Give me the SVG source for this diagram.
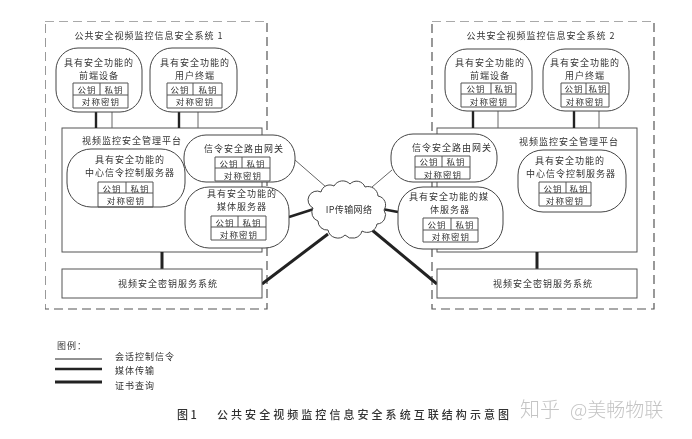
<svg xmlns="http://www.w3.org/2000/svg" width="692" height="439" viewBox="0 0 692 439">
<style>
text{font-family:"Noto Sans CJK SC","Liberation Serif",serif;font-size:9px;letter-spacing:1px;fill:#333;text-anchor:middle;dominant-baseline:central}
.k~text{font-size:8.5px;letter-spacing:1.1px}
.b{fill:none;stroke:#555;stroke-width:1.2;stroke-dasharray:9 5}
.p{fill:#fff;stroke:#555;stroke-width:1}
.f{fill:none;stroke:#555;stroke-width:1}
.n{fill:#fff;stroke:#444;stroke-width:1}
.k{fill:none;stroke:#555;stroke-width:1}
.t{stroke:#666;stroke-width:1;fill:none}
.m{stroke:#222;stroke-width:2.4;fill:none}
.c{stroke:#222;stroke-width:3;fill:none}
.l{text-anchor:start}
</style>
<defs><filter id="s" x="0" y="0" width="100%" height="100%"><feGaussianBlur stdDeviation="0.35"/></filter></defs>
<rect width="692" height="439" fill="#fff"/>
<g filter="url(#s)">
<g id="system1"><rect class="b" x="45" y="21" width="222" height="288"/><text x="149" y="35">公共安全视频监控信息安全系统 1</text></g>
<g id="system2"><rect class="b" x="432" y="21" width="222" height="288"/><text x="541" y="35">公共安全视频监控信息安全系统 2</text></g>
<g id="platform1"><rect class="f" x="62" y="128" width="200" height="124"/><text x="132" y="140">视频监控安全管理平台</text></g>
<g id="platform2"><rect class="f" x="437" y="128" width="200" height="124"/><text x="569" y="141">视频监控安全管理平台</text></g>
<g id="connectors">
<path class="m" d="M96 112V128M179 112V128M473 111V128M574 111V128"/>
<path class="t" d="M112 112V128M198 112V128M498 111V128M599 111V128"/>
<path class="t" d="M295 160L326 187M392 170L372 187"/>
<path class="m" d="M289 217L314 209M382 209L398 212"/>
<path class="c" d="M162 252V269M537 252V269M262 284L328 234M372 230L437 284"/>
</g>
<g id="front1"><rect class="n" x="56" y="48" width="86" height="64" rx="22"/><text x="99" y="62.5">具有安全功能的</text><text x="99" y="75.5">前端设备</text>
<path class="k" d="M73 83H128V108H73ZM73 95H128M100 83V95"/><text x="87" y="88.7">公钥</text><text x="114" y="88.7">私钥</text><text x="101" y="101.3">对称密钥</text></g>
<g id="user1"><rect class="n" x="150" y="48" width="87" height="64" rx="22"/><text x="195" y="62.5">具有安全功能的</text><text x="195" y="75.5">用户终端</text>
<path class="k" d="M167 83H222V108H167ZM167 95H222M193 83V95"/><text x="180" y="88.7">公钥</text><text x="208" y="88.7">私钥</text><text x="195" y="101.3">对称密钥</text></g>
<g id="central1"><rect class="n" x="67" y="149" width="118" height="58" rx="24"/><text x="130" y="159.5">具有安全功能的</text><text x="130" y="172.5">中心信令控制服务器</text>
<path class="k" d="M98 182H153V207H98ZM98 193H153M126 182V193"/><text x="112" y="187.7">公钥</text><text x="140" y="187.7">私钥</text><text x="126" y="200.3">对称密钥</text></g>
<g id="gateway1"><rect class="n" x="184" y="135" width="111" height="47" rx="22"/><text x="244" y="148">信令安全路由网关</text>
<path class="k" d="M215 157H270V181H215ZM215 168H270M242 157V168"/><text x="229" y="162.7">公钥</text><text x="256" y="162.7">私钥</text><text x="243" y="175.3">对称密钥</text></g>
<g id="media1"><rect class="n" x="185" y="187" width="104" height="61" rx="24"/><text x="242" y="193.5">具有安全功能的</text><text x="242" y="206.5">媒体服务器</text>
<path class="k" d="M211 216H266V240H211ZM211 227H266M238 216V227"/><text x="225" y="221.7">公钥</text><text x="252" y="221.7">私钥</text><text x="239" y="234.3">对称密钥</text></g>
<g id="keys1"><rect class="p" x="62" y="269" width="200" height="29"/><text x="168" y="283">视频安全密钥服务系统</text></g>
<g id="front2"><rect class="n" x="445" y="49" width="87" height="62" rx="22"/><text x="490" y="62.5">具有安全功能的</text><text x="490" y="75.5">前端设备</text>
<path class="k" d="M461 83H516V107H461ZM461 94H516M491 83V94"/><text x="476" y="88.4">公钥</text><text x="504" y="88.4">私钥</text><text x="489" y="101">对称密钥</text></g>
<g id="user2"><rect class="n" x="543" y="49" width="86" height="62" rx="22"/><text x="585" y="62.5">具有安全功能的</text><text x="585" y="75.5">用户终端</text>
<path class="k" d="M561 83H609V107H561ZM561 94H609M586 83V94"/><text x="574" y="88.4">公钥</text><text x="598" y="88.4">私钥</text><text x="585" y="101">对称密钥</text></g>
<g id="central2"><rect class="n" x="518" y="150" width="108" height="62" rx="25"/><text x="570" y="160.5">具有安全功能的</text><text x="571" y="173.5">中心信令控制服务器</text>
<path class="k" d="M539 182H591V206H539ZM539 193H591M566 182V193"/><text x="553" y="187.7">公钥</text><text x="579" y="187.7">私钥</text><text x="565" y="200.3">对称密钥</text></g>
<g id="gateway2"><rect class="n" x="391" y="134" width="106" height="48" rx="22"/><text x="452" y="147">信令安全路由网关</text>
<path class="k" d="M415 156H470V179H415ZM415 167H470M442 156V167"/><text x="429" y="161.4">公钥</text><text x="456" y="161.4">私钥</text><text x="443" y="174">对称密钥</text></g>
<g id="media2"><rect class="n" x="398" y="187" width="105" height="62" rx="25"/><text x="449" y="196">具有安全功能的媒</text><text x="450" y="209">体服务器</text>
<path class="k" d="M423 218H478V242H423ZM423 230H478M451 218V230"/><text x="437" y="223.7">公钥</text><text x="465" y="223.7">私钥</text><text x="451" y="236.3">对称密钥</text></g>
<g id="keys2"><rect class="p" x="437" y="269" width="200" height="29"/><text x="543" y="283">视频安全密钥服务系统</text></g>
<g id="cloud"><path class="n" d="M321 192A9 9 0 0 1 334 186A10 10 0 0 1 350 184A9 9 0 0 1 365 187A10 10 0 0 1 378 196A9 9 0 0 1 384 210A9 9 0 0 1 377 224A10 10 0 0 1 362 231A10 10 0 0 1 345 235A10 10 0 0 1 328 230A9 9 0 0 1 318 221A9 9 0 0 1 313 208A8 8 0 0 1 321 192Z"/><text x="349" y="209" style="letter-spacing:.4px">IP传输网络</text></g>
<g id="legend"><text class="l" x="57" y="345">图例：</text>
<path class="m" d="M55 359H102" style="stroke-width:1"/><path class="m" d="M55 369H102"/><path class="c" d="M55 382H102"/>
<text class="l" x="115" y="356">会话控制信令</text><text class="l" x="115" y="370">媒体传输</text><text class="l" x="115" y="385">证书查询</text></g>
<text x="177" y="414" style="text-anchor:start;font-size:11px;font-weight:500;letter-spacing:0">图 1</text>
<text x="217" y="414" style="text-anchor:start;font-size:11px;font-weight:500;letter-spacing:3.05px">公共安全视频监控信息安全系统互联结构示意图</text>
<text x="520" y="408" style="text-anchor:start;font-size:20px;font-weight:300;fill:#c4c4c4;letter-spacing:0">知乎</text>
<text x="570" y="408" style="text-anchor:start;font-size:19px;font-weight:300;fill:#c4c4c4;letter-spacing:0">@美畅物联</text>
</g>
</svg>
